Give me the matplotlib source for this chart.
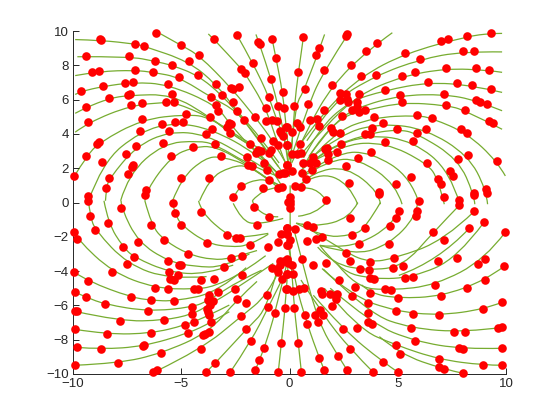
import matplotlib
matplotlib.use('Agg')
import matplotlib.pyplot as plt
from matplotlib.path import Path
from matplotlib.patches import PathPatch

# comet heads, one list per quadrant
dots_ul = [(-6.18,9.86),(-8.77,9.51),(-8.69,9.46),(-7.12,9.24),(-6.71,9.11),(-5.0,9.16),(-3.48,9.51),(-2.42,9.75),(-1.45,9.38),(-1.38,9.22),(-0.8,9.51),(-0.62,8.41),(-1.68,8.11),(-4.17,8.58),(-4.66,8.23),(-5.42,8.0),(-6.2,8.23),(-7.4,8.52),(-9.38,8.52),(-9.11,7.59),(-8.78,7.65),(-7.12,7.71),(-6.29,7.59),(-5.09,7.3),(-4.22,7.41),(-2.23,7.8),(-2.05,7.53),(-0.85,7.18),(-0.32,6.42),(-0.94,6.13),(-3.38,6.89),(-2.68,6.66),(-2.6,6.6),(-2.32,6.72),(-7.58,6.95),(-7.22,7.01),(-8.6,6.77),(-9.62,6.48),(-5.6,6.89),(-5.42,6.31),(-7.45,6.25),(-7.38,6.31),(-8.32,6.07),(-9.38,5.55),(-7.31,5.67),(-6.8,5.78),(-5.69,5.84),(-5.32,5.84),(-3.62,6.13),(-3.11,6.25),(-3.38,5.67),(-3.29,5.32),(-2.6,5.84),(-2.42,5.32),(-1.08,5.49),(-0.52,5.61),(-0.25,5.49),(-2.09,4.79),(-1.58,4.97),(-1.08,4.73),(-0.8,4.79),(-0.57,4.73),(-9.29,4.67),(-6.8,4.85),(-4.77,5.14),(-3.66,4.97),(-5.88,4.56),(-5.28,4.67),(-4.91,4.67),(-2.78,4.62),(-2.69,4.56),(-2.88,4.38),(-3.57,4.27),(-2.74,4.03),(-3.85,3.97),(-6.89,4.15),(-5.55,4.15),(-0.43,4.15),(-0.38,4.03),(-0.15,4.38),(-0.32,3.86),(-1.31,3.74),(-0.75,3.57),(-0.52,3.33),(-0.11,3.33),(-8.88,3.39),(-8.78,3.51),(-7.08,3.28),(-5.83,3.45),(-4.45,3.22),(-3.43,3.39),(-1.82,3.39),(-9.38,2.69),(-7.54,2.81),(-5.46,2.69),(-3.15,2.69),(-1.95,2.63),(-1.54,2.87),(-1.45,3.04),(-1.31,2.98),(-0.94,2.87),(-0.85,3.04),(-8.65,2.34),(-7.22,2.17),(-7.26,2.05),(-7.45,1.64),(-1.17,2.28),(-1.91,2.17),(-1.72,2.11),(-1.03,1.88),(-0.11,2.17),(-0.48,1.64),(-0.29,1.7),(-9.94,1.53),(-8.32,1.41),(-5.0,1.41),(-3.71,1.41),(-0.94,1.29),(-2.23,0.99),(-0.52,0.87),(-0.34,0.93),(-8.46,0.83),(-1.22,0.83),(-6.62,0.71),(-6.66,0.42),(-2.6,0.31),(-9.29,0.36),(-9.29,0.07),(-5.37,-0.05),(-0.05,0.05),(-1.63,-0.28)]
dots_ur = [(0.64,9.63),(1.38,8.99),(1.24,8.6),(2.67,9.81),(2.62,9.71),(4.05,9.28),(3.55,8.81),(5.35,8.7),(6.04,8.35),(7.01,9.4),(7.33,9.51),(8.21,9.69),(9.32,9.86),(8.02,8.81),(8.53,8.81),(0.41,7.59),(1.61,7.71),(2.85,8.0),(3.32,7.36),(4.01,7.41),(5.21,7.36),(5.81,7.59),(7.24,7.82),(8.62,7.82),(9.22,7.71),(1.98,6.83),(0.73,6.6),(6.41,7.01),(7.75,6.95),(8.44,6.83),(9.32,6.6),(4.42,6.54),(3.22,6.31),(2.35,6.37),(2.62,6.31),(2.35,5.96),(2.67,6.02),(2.72,5.88),(5.12,6.25),(5.21,5.84),(7.15,6.31),(8.62,5.96),(8.81,5.84),(9.13,5.72),(0.87,5.72),(0.22,5.61),(1.61,5.37),(3.13,5.84),(3.13,5.55),(2.9,5.37),(3.22,5.26),(3.5,5.37),(7.24,5.67),(8.12,5.37),(2.44,5.02),(3.92,4.97),(5.9,5.08),(6.59,4.91),(9.22,4.73),(9.41,4.62),(0.96,4.79),(1.29,4.85),(0.36,4.62),(1.38,4.44),(0.5,4.38),(-0.1,4.38),(0.13,4.09),(4.33,4.62),(3.82,4.32),(3.73,3.97),(3.5,3.97),(1.93,4.32),(2.02,4.09),(2.35,4.03),(4.98,4.27),(6.32,4.27),(5.9,4.03),(7.93,4.27),(8.21,4.03),(4.42,3.51),(5.72,3.57),(2.39,3.39),(1.75,3.16),(1.65,3.1),(1.79,2.81),(2.21,2.93),(1.79,2.46),(0.5,3.39),(-0.1,3.33),(0.13,2.81),(0.36,2.81),(0.55,2.87),(3.78,2.93),(3.18,2.57),(1.1,2.63),(0.96,2.28),(1.24,2.28),(1.05,1.88),(0.64,2.28),(-0.1,2.17),(8.25,2.75),(7.8,2.52),(9.59,2.4),(6.36,2.28),(2.62,2.11),(7.42,1.82),(7.56,1.53),(5.62,1.47),(6.87,1.35),(7.01,1.06),(0.59,1.7),(0.78,1.35),(0.13,1.82),(-0.2,1.7),(2.76,1.12),(4.93,1.06),(0.27,0.94),(0.55,0.88),(4.15,0.59),(4.15,0.48),(9.08,0.77),(9.13,0.53),(8.53,0.53),(8.53,0.42),(7.15,0.31),(1.7,0.13),(5.99,0.07),(7.84,0.13),(0.04,0.3),(0.04,0.1),(0.04,-0.1),(0.04,-0.3)]
dots_ll = [(-7.77,-0.34),(-9.2,-0.81),(-5.28,-0.63),(-4.08,-0.57),(-0.94,-0.87),(-8.37,-1.22),(-6.38,-1.33),(-5.0,-1.33),(-1.49,-1.33),(-9.94,-1.74),(-8.97,-1.62),(-9.8,-2.15),(-6.98,-2.32),(-5.78,-2.21),(-2.88,-1.91),(-2.46,-2.09),(-2.28,-2.09),(-3.8,-2.38),(-1.82,-2.5),(-7.68,-2.61),(-0.98,-2.61),(-0.52,-2.32),(-0.38,-1.86),(-0.11,-1.51),(-0.11,-1.86),(-0.06,-2.5),(-4.68,-3.02),(-7.17,-3.2),(-2.18,-3.14),(-2.69,-3.26),(-5.6,-3.43),(-7.49,-3.6),(-5.09,-3.66),(-5.0,-3.66),(-3.02,-3.78),(-0.8,-3.84),(-0.57,-3.9),(-0.43,-3.43),(-0.25,-3.43),(-0.43,-3.66),(-0.06,-3.55),(-0.52,-4.07),(-9.94,-4.07),(-8.18,-4.07),(-5.55,-4.07),(-5.14,-4.25),(-5.51,-4.48),(-5.32,-4.54),(-4.08,-4.54),(-3.48,-4.48),(-2.18,-4.25),(-0.11,-4.19),(-0.34,-4.48),(-9.29,-4.6),(-6.2,-5.0),(-5.6,-5.06),(-4.4,-5.06),(-4.22,-5.06),(-2.51,-5.06),(-0.15,-5.06),(-3.29,-5.24),(-9.89,-5.24),(-9.38,-5.53),(-7.31,-5.53),(-6.38,-5.7),(-5.32,-5.76),(-3.71,-5.41),(-3.75,-5.7),(-3.52,-5.76),(-3.66,-6.0),(-3.8,-6.23),(-3.75,-6.4),(-3.71,-6.58),(-3.62,-6.99),(-2.42,-5.65),(-2.0,-5.88),(-1.03,-5.41),(-0.98,-6.11),(-0.2,-6.17),(-8.51,-5.94),(-9.89,-6.35),(-9.8,-6.35),(-6.52,-6.35),(-4.49,-6.11),(-4.49,-6.52),(-0.66,-6.46),(-2.23,-6.64),(-7.82,-6.93),(-5.78,-6.87),(-4.4,-6.99),(-4.82,-7.16),(-2.0,-7.4),(-9.89,-7.4),(-8.42,-7.69),(-6.38,-7.63),(-4.68,-7.63),(-3.98,-7.75),(-3.89,-7.69),(-3.71,-7.57),(-1.77,-8.09),(-0.38,-8.21),(-9.8,-8.45),(-8.69,-8.56),(-6.75,-8.39),(-6.71,-8.33),(-4.08,-8.56),(-1.17,-8.5),(-5.92,-8.8),(-1.4,-9.2),(-9.89,-9.49),(-7.91,-9.38),(-3.43,-9.38),(-1.58,-9.79),(-6.29,-9.9),(-6.11,-9.79),(-3.85,-9.9),(-2.74,-9.9),(-0.52,-9.9)]
dots_lr = [(2.81,-0.92),(5.07,-0.52),(4.93,-0.92),(5.9,-0.52),(5.85,-0.81),(7.84,-0.17),(8.53,-0.52),(8.98,-1.16),(8.3,-1.51),(3.5,-1.51),(4.65,-1.39),(2.9,-1.91),(6.64,-1.74),(9.96,-1.74),(7.15,-2.21),(3.22,-2.44),(4.61,-2.44),(0.82,-1.33),(1.1,-1.45),(0.27,-1.57),(-0.1,-1.51),(-0.1,-1.86),(0.04,-2.21),(-0.1,-2.5),(1.24,-2.15),(1.52,-2.03),(0.82,-2.26),(2.62,-2.96),(4.84,-3.26),(7.75,-3.26),(6.87,-3.43),(9.04,-3.31),(8.72,-3.61),(2.81,-3.43),(3.73,-3.49),(0.56,-3.31),(-0.1,-3.31),(0.13,-3.66),(1.1,-3.66),(1.7,-3.55),(3.27,-3.9),(3.68,-3.96),(4.79,-3.84),(5.25,-3.72),(9.92,-3.72),(3.73,-4.42),(3.92,-4.48),(5.35,-4.42),(5.71,-4.36),(9.04,-4.54),(2.3,-4.54),(-0.1,-4.19),(0.18,-4.19),(6.73,-4.83),(8.21,-5.0),(3.04,-4.95),(4.42,-5.06),(4.7,-5.12),(3.73,-5.3),(5.02,-5.59),(7.01,-5.47),(2.9,-5.47),(-0.1,-5.06),(0.18,-5.18),(0.45,-5.06),(0.68,-5.0),(1.47,-5.18),(1.52,-5.36),(1.88,-5.36),(2.21,-5.36),(2.16,-5.65),(1.98,-6.06),(3.64,-5.88),(9.82,-5.82),(4.93,-6.35),(3.64,-6.47),(5.71,-6.52),(6.92,-6.58),(8.96,-6.23),(0.22,-6.17),(1.42,-6.29),(1.19,-6.58),(1.56,-6.58),(0.73,-6.58),(1.33,-6.99),(0.82,-7.1),(3.64,-6.99),(3.82,-7.1),(3.13,-7.34),(2.48,-7.4),(5.62,-7.34),(7.61,-7.57),(8.12,-7.57),(9.64,-7.34),(9.82,-7.28),(5.81,-8.09),(4.93,-8.33),(0.41,-8.21),(2.81,-8.56),(7.84,-8.48),(8.02,-8.56),(9.82,-8.5),(5.12,-8.85),(2.25,-8.97),(1.38,-9.09),(6.92,-9.15),(4.33,-9.32),(8.96,-9.49),(9.82,-9.49),(6.92,-9.61),(7.15,-9.73),(1.61,-9.79),(2.67,-9.79),(0.55,-9.9),(3.87,-9.9),(5.02,-9.9),(8.02,-9.96)]

# stream lines, vertices
lines_ul = [
    [(-0.83,9.7),(-0.62,8.41),(-0.32,6.42),(-0.15,4.38),(0,2.5)],
    [(-1.55,9.8),(-1.38,9.22),(-0.85,7.18),(-0.52,5.61),(-0.15,3.33),(0,1.5)],
    [(-2.42,9.75),(-1.68,8.11),(-0.94,6.13),(-0.57,4.73),(-0.11,3.33),(0,1.8)],
    [(-3.75,9.83),(-3.48,9.51),(-2.23,7.8),(-2.05,7.53),(-1.08,5.49),(-0.52,3.33),(-0.15,2.2)],
    [(-5.95,9.83),(-5.0,9.16),(-4.17,8.58),(-2.68,6.66),(-1.58,4.97),(-0.75,3.57),(-0.11,2.17)],
    [(-9.9,9.5),(-8.69,9.46),(-7.12,9.24),(-6.71,9.11),(-4.66,8.23),(-3.38,6.89),(-2.42,5.32),(-1.31,3.74),(-0.48,2.3)],
    [(-9.8,8.5),(-7.4,8.52),(-6.2,8.23),(-5.42,8.0),(-4.22,7.41),(-3.11,6.25),(-2.09,4.79),(-0.94,2.87),(-0.29,1.7)],
    [(-9.9,7.4),(-8.78,7.65),(-7.12,7.71),(-6.29,7.59),(-5.09,7.3),(-3.62,6.13),(-2.42,5.32),(-1.54,3.8),(-0.52,2.1)],
    [(-9.9,6.3),(-9.62,6.48),(-8.6,6.77),(-7.22,7.01),(-5.6,6.89),(-3.38,5.67),(-2.78,4.62),(-1.54,2.87),(-0.48,1.64)],
    [(-9.9,5.2),(-9.38,5.55),(-8.32,6.07),(-7.45,6.25),(-5.42,6.31),(-3.66,4.97),(-2.69,4.03),(-1.45,3.04),(-0.5,1.6)],
    [(-9.9,4.1),(-9.29,4.67),(-7.31,5.67),(-5.69,5.84),(-5.32,5.84),(-3.66,4.97),(-2.74,4.03),(-1.31,2.98),(-0.34,0.93)],
    [(-9.94,1.53),(-9.38,2.69),(-8.78,3.51),(-6.8,4.85),(-4.77,5.14),(-3.66,4.97),(-1.82,3.39),(-0.94,2.87)],
    [(-9.29,0.07),(-8.65,2.34),(-6.89,4.15),(-5.28,4.67),(-3.57,4.27),(-1.54,2.87),(-0.48,1.64)],
    [(-8.5,0.1),(-8.46,0.83),(-8.32,1.41),(-7.08,3.28),(-5.55,4.15),(-3.85,3.97),(-1.95,2.63),(-1.03,1.88)],
    [(-7.8,0.1),(-7.45,1.64),(-5.83,3.45),(-4.2,3.6),(-3.43,3.39),(-1.72,2.11),(-0.5,1.5)],
    [(-6.68,0.1),(-6.62,0.71),(-5.46,2.69),(-4.45,3.22),(-3.43,3.3),(-1.91,2.2),(-0.9,1.3)],
    [(-5.4,0.1),(-5.0,1.41),(-3.9,2.6),(-3.15,2.69),(-1.72,2.11),(-0.52,0.87)],
    [(-4.15,0.1),(-3.71,1.41),(-2.7,2.1),(-1.91,2.17),(-0.94,1.29),(-0.34,0.93)],
    [(-2.6,0.1),(-2.6,0.31),(-2.23,0.99),(-1.5,1.35),(-0.94,1.29),(-0.34,0.93)],
    [(-1.72,0.1),(-1.22,0.83),(-0.52,0.87)],
]
lines_ur = [
    [(9.82,9.86),(9.32,9.86),(8.21,9.69),(5.35,8.7),(3.32,7.36),(1.64,5.39),(0.41,3.26)],
    [(9.82,8.78),(8.02,8.81),(6.04,8.35),(4.01,7.41),(2.0,5.9),(0.8,3.6)],
    [(9.82,7.59),(9.22,7.71),(7.24,7.82),(5.21,7.36),(3.22,6.31),(1.6,4.4),(0.6,2.9)],
    [(9.82,6.42),(8.44,6.83),(6.41,7.01),(4.42,6.54),(2.72,5.88),(1.3,4.2),(0.65,2.6)],
    [(9.82,5.35),(8.62,5.96),(7.15,6.31),(5.12,6.25),(3.13,5.55),(2.0,4.6),(0.9,2.7)],
    [(9.82,4.27),(8.12,5.37),(7.24,5.67),(5.21,5.84),(3.5,5.37),(2.44,5.02),(1.2,3.4),(0.6,2.0)],
    [(9.97,1.55),(9.59,2.4),(8.21,4.03),(6.59,4.91),(5.9,5.08),(3.92,4.97),(2.02,4.09),(0.6,2.0)],
    [(9.15,-0.1),(9.08,0.77),(8.25,2.75),(6.32,4.27),(4.33,4.62),(2.35,4.03),(0.8,2.4)],
    [(8.56,-0.1),(8.53,0.42),(7.8,2.52),(5.9,4.03),(4.98,4.27),(3.5,3.97),(1.65,3.1),(0.9,2.2)],
    [(7.87,-0.1),(7.42,1.82),(5.72,3.57),(3.73,3.97),(1.75,3.16),(0.55,1.9)],
    [(7.15,-0.1),(6.87,1.35),(6.36,2.28),(4.42,3.51),(2.39,3.39),(0.64,2.1)],
    [(6.0,-0.1),(5.62,1.47),(3.78,2.93),(2.21,2.93),(0.72,1.7)],
    [(5.2,-0.1),(4.93,1.06),(3.18,2.57),(1.79,2.46),(0.6,1.5)],
    [(4.2,-0.1),(4.15,0.59),(2.62,2.11),(1.1,1.78),(0.55,1.1)],
    [(3.15,-0.1),(2.76,1.12),(1.33,1.8),(0.4,0.95)],
    [(1.7,0.13),(1.33,0.75),(0.55,0.88),(0.3,0.98)],
    [(4.75,9.9),(3.55,8.81),(1.98,6.83),(0.87,4.44),(0.1,2.3)],
    [(2.72,9.85),(1.61,7.71),(0.87,5.72),(0.13,2.81)],
    [(1.62,9.8),(0.73,6.6),(0.22,5.61),(0.0,1.8)],
    [(0.64,9.63),(0.41,7.59),(0.22,5.61),(0.02,1.6)],
    [(0.03,1.0),(0.03,0.2),(0.03,-1.5)],
]
lines_ll = [
    [(-9.29,0.1),(-9.2,-0.81),(-8.97,-1.62),(-7.49,-3.6),(-5.51,-4.48),(-3.83,-4.32)],
    [(-8.57,0.1),(-8.37,-1.22),(-7.68,-2.61),(-7.17,-3.2),(-5.55,-4.07),(-3.9,-4.2),(-2.6,-3.65)],
    [(-7.78,0.1),(-7.77,-0.34),(-6.98,-2.32),(-5.6,-3.43),(-4.4,-3.74),(-3.02,-3.78),(-1.85,-3.0)],
    [(-6.68,0.1),(-6.38,-1.33),(-5.78,-2.21),(-4.68,-3.02),(-3.55,-3.35),(-2.69,-3.26),(-1.5,-2.8)],
    [(-5.45,0.1),(-5.28,-0.63),(-5.0,-1.33),(-3.8,-2.38),(-2.75,-2.6),(-1.82,-2.5),(-0.98,-1.85)],
    [(-4.2,0.1),(-4.08,-0.57),(-2.88,-1.91),(-2.28,-2.09),(-0.98,-1.8)],
    [(-2.6,-0.05),(-2.22,-1.02),(-1.49,-1.33),(-0.29,-0.93)],
    [(-1.71,0.1),(-1.63,-0.28),(-0.94,-0.87),(-0.52,-0.83)],
    [(-9.94,-1.74),(-9.8,-2.15),(-8.18,-4.07),(-6.2,-5.0),(-4.4,-5.06),(-3.48,-4.9),(-2.1,-4.05),(-1.1,-3.1)],
    [(-9.94,-4.07),(-9.29,-4.6),(-7.31,-5.53),(-6.38,-5.7),(-5.32,-5.76),(-3.29,-5.24),(-2.0,-3.8)],
    [(-9.89,-5.24),(-9.38,-5.53),(-8.51,-5.94),(-6.52,-6.35),(-4.49,-6.11),(-3.71,-5.7),(-2.3,-4.53),(-1.29,-3.95)],
    [(-9.89,-6.35),(-7.82,-6.93),(-5.78,-6.87),(-4.49,-6.52),(-3.75,-6.0),(-2.51,-5.06),(-0.75,-3.55)],
    [(-9.89,-7.4),(-8.42,-7.69),(-6.38,-7.63),(-4.82,-7.16),(-3.71,-6.58),(-2.78,-5.98)],
    [(-9.8,-8.45),(-8.69,-8.56),(-6.75,-8.39),(-4.68,-7.63),(-3.62,-6.99),(-2.78,-6.37)],
    [(-9.89,-9.49),(-7.91,-9.38),(-5.92,-8.8),(-3.71,-7.57),(-2.42,-5.65),(-1.5,-4.6)],
    [(-6.1,-9.8),(-4.08,-8.56),(-2.23,-6.64),(-1.03,-5.41),(-0.52,-4.07)],
    [(-3.85,-9.9),(-3.43,-9.38),(-2.0,-7.4),(-0.98,-6.11),(-0.57,-3.9)],
    [(-2.74,-9.9),(-1.77,-8.09),(-0.98,-6.11),(-0.34,-4.48)],
    [(-1.58,-9.79),(-1.4,-9.2),(-1.17,-8.5),(-0.66,-6.46),(-0.15,-3.7)],
    [(-0.52,-9.9),(-0.38,-8.21),(-0.2,-6.17),(-0.06,-3.55)],
]
lines_lr = [
    [(0.55,-9.9),(0.41,-8.21),(0.22,-6.17),(0.1,-3.74),(-0.05,-1.8)],
    [(1.61,-9.79),(1.38,-9.09),(0.82,-7.1),(0.22,-4.52),(-0.1,-2.2)],
    [(2.67,-9.79),(2.25,-8.97),(1.33,-6.99),(0.56,-3.31),(0.25,-1.8)],
    [(3.87,-9.9),(2.81,-8.56),(1.56,-6.58),(0.53,-4.52)],
    [(5.02,-9.9),(4.33,-9.32),(2.48,-7.4),(1.1,-5.41)],
    [(8.02,-9.96),(7.15,-9.73),(5.12,-8.85),(4.15,-7.82)],
    [(9.82,-9.49),(8.96,-9.49),(6.92,-9.15),(4.93,-8.33),(3.13,-7.34),(1.61,-5.0)],
    [(9.82,-8.5),(8.02,-8.56),(5.81,-8.09),(3.82,-7.1),(1.88,-5.0)],
    [(9.82,-7.28),(8.12,-7.57),(5.62,-7.34),(3.64,-6.47),(1.56,-3.88)],
    [(9.82,-5.82),(8.96,-6.23),(6.92,-6.58),(4.93,-6.35),(2.9,-5.47),(1.5,-3.85)],
    [(9.92,-3.72),(9.04,-4.54),(7.01,-5.47),(5.02,-5.59),(3.73,-5.3),(3.33,-4.8)],
    [(9.96,-1.74),(9.04,-3.31),(6.73,-4.83),(4.7,-5.12),(3.04,-4.95),(2.18,-3.55)],
    [(8.98,-1.16),(7.75,-3.26),(5.71,-4.36),(3.92,-4.48),(2.3,-4.0),(1.4,-2.5)],
    [(8.53,-0.52),(7.15,-2.21),(4.84,-3.26),(3.73,-3.49),(2.62,-2.96),(0.56,-1.25)],
    [(7.84,-0.17),(6.64,-1.74),(5.25,-3.72),(3.68,-3.96),(2.0,-3.6),(1.3,-2.6)],
    [(8.3,-1.51),(6.87,-3.43),(5.05,-4.25)],
    [(5.92,0),(5.85,-0.81),(4.61,-2.44),(3.0,-3.1),(1.4,-2.5)],
    [(5.07,-0.52),(4.65,-1.39),(3.22,-2.44),(1.95,-2.6),(1.4,-2.5)],
    [(4.2,0),(3.5,-1.51),(2.9,-1.91),(1.52,-2.03),(0.3,-1.2)],
    [(3.15,0),(2.81,-0.92),(1.1,-1.45),(0.32,-1.2)],
    [(1.7,0),(1.2,-0.7),(0.4,-0.8)],
]

x_ticks = [-10, -5, 0, 5, 10]
y_ticks = [-10, -8, -6, -4, -2, 0, 2, 4, 6, 8, 10]


def smooth_path(pts):
    # quadratic pieces with the read vertices as control points
    verts = [pts[0]]
    codes = [Path.MOVETO]
    for i in range(1, len(pts) - 1):
        mid = ((pts[i][0] + pts[i+1][0]) / 2, (pts[i][1] + pts[i+1][1]) / 2)
        if i == len(pts) - 2:
            mid = pts[i+1]
        verts += [pts[i], mid]
        codes += [Path.CURVE3, Path.CURVE3]
    if len(pts) == 2:
        verts.append(pts[1])
        codes.append(Path.LINETO)
    return Path(verts, codes)


plt.rcParams['font.family'] = ['Liberation Sans', 'DejaVu Sans']
fig = plt.figure(figsize=(5.6, 4.2), dpi=100)
ax = fig.add_axes([73/560, 46/420, 433/560, 343/420])

for group in [lines_ul, lines_ur, lines_ll, lines_lr]:
    for pts in group:
        ax.add_patch(PathPatch(smooth_path(pts), fc='none', ec='#77AC30', lw=0.9))

for group in [dots_ul, dots_ur, dots_ll, dots_lr]:
    xs = [p[0] for p in group]
    ys = [p[1] for p in group]
    ax.plot(xs, ys, 'o', color='#ff0000', ms=6.2, mew=0, clip_on=False, zorder=3)

ax.set_xlim(-10, 10)
ax.set_ylim(-10, 10)
ax.set_xticks(x_ticks)
ax.set_yticks(y_ticks)
ax.spines['top'].set_visible(False)
ax.spines['right'].set_visible(False)
for s in ['left', 'bottom']:
    ax.spines[s].set_color('#262626')
    ax.spines[s].set_linewidth(0.7)
ax.tick_params(direction='in', length=4, width=0.7, color='#262626', labelcolor='#262626', labelsize=9.5, pad=3)

fig.savefig('out.png', dpi=100)
